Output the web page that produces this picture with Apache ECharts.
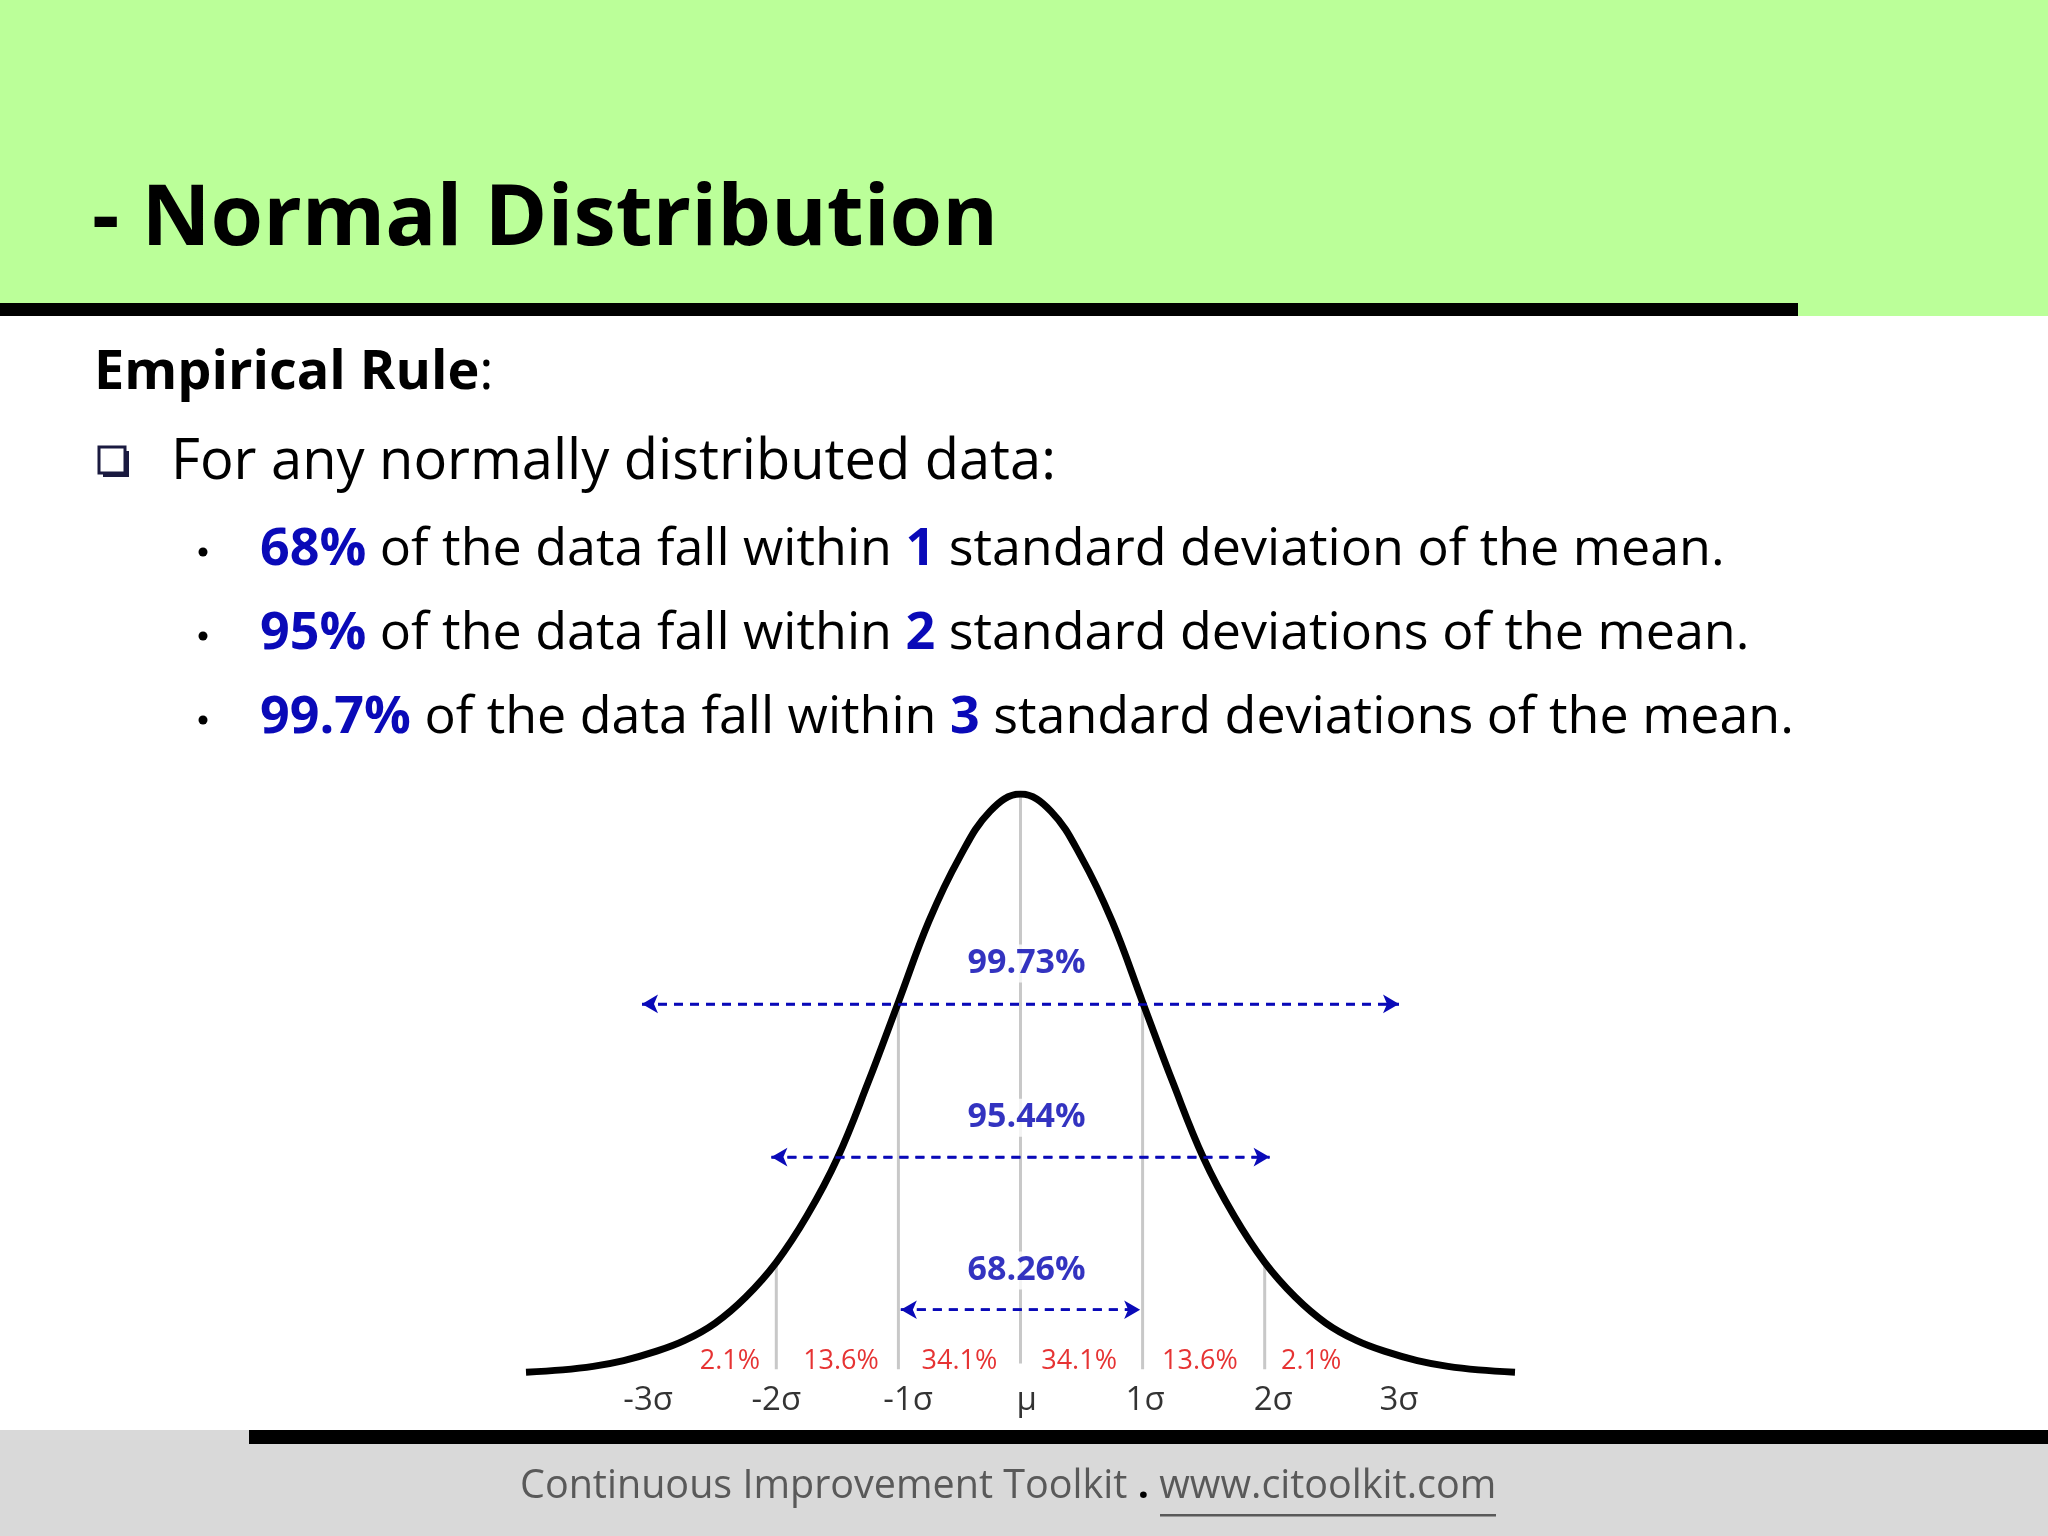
<!DOCTYPE html>
<html><head><meta charset="utf-8">
<script src="https://cdn.jsdelivr.net/npm/echarts@6/dist/echarts.min.js"></script>
<style>html,body{margin:0;padding:0;background:#fff}#c{width:2048px;height:1536px}</style>
</head><body><div id="c"></div>
<script>
const curveX = [-4.05,-3.75,-3.5,-3.25,-3,-2.75,-2.5,-2.25,-2,-1.75,-1.5,-1.25,-1,-0.75,-0.5,-0.25,0,0.25,0.5,0.75,1,1.25,1.5,1.75,2,2.25,2.5,2.75,3,3.25,3.5,3.75,4.05];
const curveY = [0,0.004,0.01,0.02,0.035,0.055,0.085,0.13,0.19,0.27,0.37,0.50,0.64,0.78,0.89,0.97,1.0,0.97,0.89,0.78,0.64,0.50,0.37,0.27,0.19,0.13,0.085,0.055,0.035,0.02,0.01,0.004,0];
const sigmaLabels = ['-3σ','-2σ','-1σ','μ','1σ','2σ','3σ'];
const sigmaPos = [-3.05,-2.0,-0.92,0.05,1.02,2.07,3.1];
const segLabels = ['2.1%','13.6%','34.1%','34.1%','13.6%','2.1%'];
const segPos = [-2.38,-1.47,-0.5,0.48,1.47,2.38];
const rangeLabels = ['99.73%','95.44%','68.26%'];
const rangeHalf = [3.1,2.04,0.98];
const rangeArrowY = [0.637,0.372,0.108];
const rangeLabelY = [0.707,0.44,0.176];
const guideX = [-2,-1,1,2];
const guideTop = [0.19,0.64,0.64,0.19];

const F = '"Open Sans", sans-serif';
const chart = echarts.init(document.getElementById('c'));
const series = [];
guideX.forEach((x,i)=>series.push({type:'line',data:[[x,0.005],[x,guideTop[i]]],symbol:'none',lineStyle:{color:'#c8c8c8',width:3},z:1,silent:true}));
series.push({type:'line',data:[[0,0.015],[0,1]],symbol:'none',lineStyle:{color:'#c8c8c8',width:3},z:1});
rangeHalf.forEach((h,i)=>series.push({type:'line',data:[[-h,rangeArrowY[i]],[h,rangeArrowY[i]]],symbol:'none',z:3,
  lineStyle:{color:'#0a0ab8',width:2.5,type:[9,7]},
  markLine:{silent:true,symbol:['arrow','arrow'],symbolSize:[14,16],lineStyle:{color:'#0a0ab8',width:2.5,type:[9,7]},label:{show:false},
    data:[[{coord:[-h,rangeArrowY[i]]},{coord:[h,rangeArrowY[i]]}]]}}));
series.push({type:'line',data:curveX.map((x,i)=>[x,curveY[i]]),smooth:0.4,symbol:'none',lineStyle:{color:'#000',width:7},z:4});
series.push({type:'scatter',symbolSize:0,z:5,data:rangeLabels.map((t,i)=>({value:[0.05,rangeLabelY[i]],name:t})),
  label:{show:true,formatter:p=>p.name,position:'inside',color:'#0000b0',fontWeight:'bold',fontSize:34,fontFamily:F,backgroundColor:'#fff',padding:[2,4]}});
series.push({type:'scatter',symbolSize:0,z:5,data:segLabels.map((t,i)=>({value:[segPos[i],0.018],name:t})),
  label:{show:true,formatter:p=>p.name,position:'inside',color:'#e00000',fontSize:27,fontFamily:F}});
series.push({type:'scatter',symbolSize:0,z:5,data:sigmaLabels.map((t,i)=>({value:[sigmaPos[i],-0.05],name:t})),
  label:{show:true,formatter:p=>p.name,position:'inside',color:'#000',fontSize:33,fontFamily:F}});

const blue='#0a0ab8';
const bulletRich={n:{fontSize:52,fontFamily:F,fill:'#000'},b:{fontSize:52,fontFamily:F,fontWeight:'bold',fill:blue}};
function bullet(y,txt){return [
  {type:'circle',shape:{cx:203,cy:y,r:4.5},style:{fill:'#000'}},
  {type:'text',left:260,top:y-28,style:{text:txt,rich:bulletRich,fontFamily:F,fontSize:52}}];}
chart.setOption({
  animation:false,
  grid:{left:526,width:989,top:794,height:636},
  xAxis:{type:'value',min:-4.05,max:4.05,show:false},
  yAxis:{type:'value',min:-0.1,max:1,show:false},
  series,
  graphic:[
    {type:'rect',shape:{x:0,y:0,width:2048,height:316},style:{fill:'#bbff99'},z:-1},
    {type:'rect',shape:{x:0,y:303,width:1798,height:13},style:{fill:'#000'}},
    {type:'text',left:92,top:178,style:{text:'- Normal Distribution',fontFamily:F,fontWeight:'bold',fontSize:85,fill:'#000'}},
    {type:'text',left:94,top:347,style:{text:'{b|Empirical Rule}{n|:}',rich:{b:{fontFamily:F,fontWeight:'bold',fontSize:54,fill:'#000'},n:{fontFamily:F,fontSize:54,fill:'#000'}}}},
    {type:'rect',shape:{x:103,y:451,width:26,height:26},style:{fill:'#1a1a40'}},
    {type:'rect',shape:{x:99,y:447,width:26,height:26},style:{fill:'#fff',stroke:'#1a1a40',lineWidth:3}},
    {type:'text',left:171,top:435,style:{text:'For any normally distributed data:',fontFamily:F,fontSize:56,fill:'#000'}},
    ...bullet(552,'{b|68%}{n| of the data fall within }{b|1}{n| standard deviation of the mean.}'),
    ...bullet(636,'{b|95%}{n| of the data fall within }{b|2}{n| standard deviations of the mean.}'),
    ...bullet(720,'{b|99.7%}{n| of the data fall within }{b|3}{n| standard deviations of the mean.}'),
    {type:'rect',shape:{x:0,y:1430,width:2048,height:106},style:{fill:'#d9d9d9'},z:-1},
    {type:'rect',shape:{x:249,y:1430,width:1799,height:14},style:{fill:'#000'}},
    {type:'text',left:520,top:1467,style:{text:'Continuous Improvement Toolkit {b|.} www.citoolkit.com',fontFamily:F,fontSize:39.5,fill:'#595959',
      rich:{b:{fontFamily:F,fontSize:39.5,fontWeight:'bold',fill:'#000'}}}},
    {type:'rect',shape:{x:1160,y:1514,width:336,height:2.5},style:{fill:'#595959'}},
  ]
});
</script></body></html>
